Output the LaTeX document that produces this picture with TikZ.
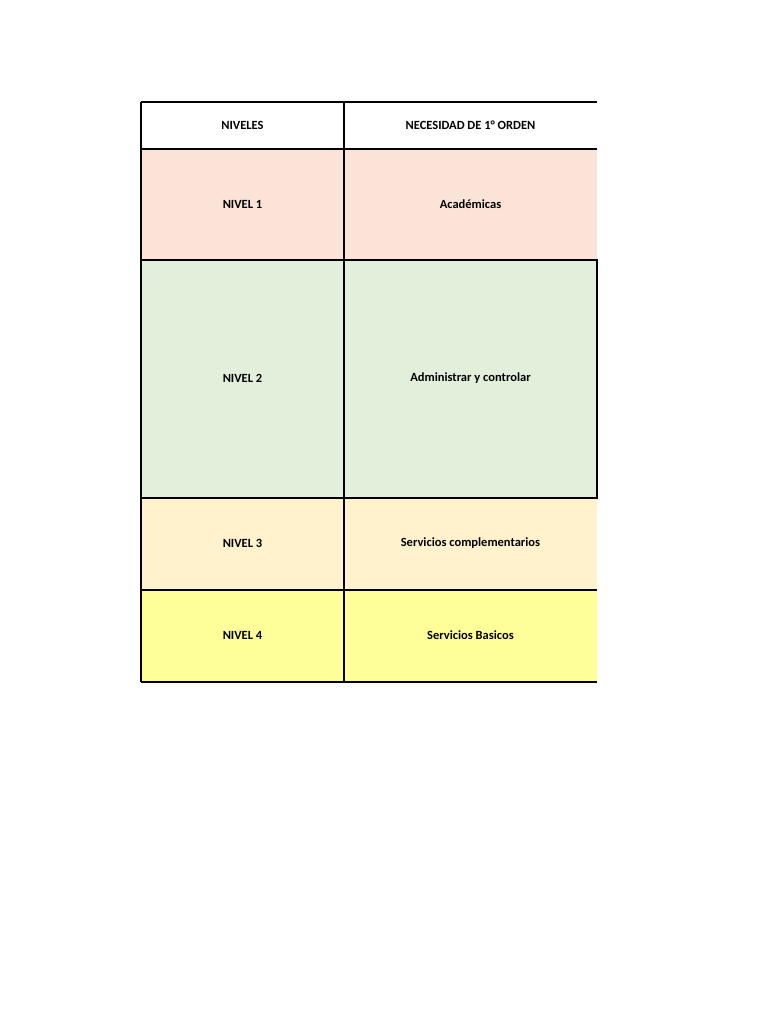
\documentclass[tikz,border=0pt]{standalone}
\usepackage{fontspec}
\setmainfont{Carlito}
\definecolor{cA}{HTML}{FBE4D7}
\definecolor{cB}{HTML}{E2EFDA}
\definecolor{cC}{HTML}{FFF2CC}
\definecolor{cD}{HTML}{FFFF99}
\tikzset{lbl/.style={font=\bfseries\fontsize{12.5}{14}\selectfont,text=black},ln/.style={line width=1.8pt}}
\begin{document}
\begin{tikzpicture}[x=1pt,y=-1pt]
\useasboundingbox (0,0) rectangle (768,1024);
\fill[cA] (141,149) rectangle (597,260);
\fill[cB] (141,260) rectangle (597,498);
\fill[cC] (141,498) rectangle (597,590);
\fill[cD] (141,590) rectangle (597,682);
\draw[ln] (141,102) -- (597,102);
\draw[ln] (141,149) -- (597,149);
\draw[ln] (141,260) -- (597,260) -- (597,498) -- (141,498);
\draw[ln] (141,590) -- (597,590);
\draw[ln] (141,682) -- (597,682);
\draw[ln] (141,102) -- (141,682);
\draw[ln] (344,102) -- (344,682);
\node[lbl] (h1) at (242.5,125.5) {NIVELES};
\node[lbl] (h2) at (470.5,125.5) {NECESIDAD DE 1° ORDEN};
\node[lbl] (n1) at (242.5,204) {NIVEL 1};
\node[lbl] (a1) at (470.5,204) {Académicas};
\node[lbl] (n2) at (242.5,378) {NIVEL 2};
\node[lbl] (a2) at (470.5,378) {Administrar y controlar};
\node[lbl] (n3) at (242.5,543) {NIVEL 3};
\node[lbl] (a3) at (470.5,543) {Servicios complementarios};
\node[lbl] (n4) at (242.5,635) {NIVEL 4};
\node[lbl] (a4) at (470.5,635) {Servicios Basicos};
\end{tikzpicture}
\end{document}
